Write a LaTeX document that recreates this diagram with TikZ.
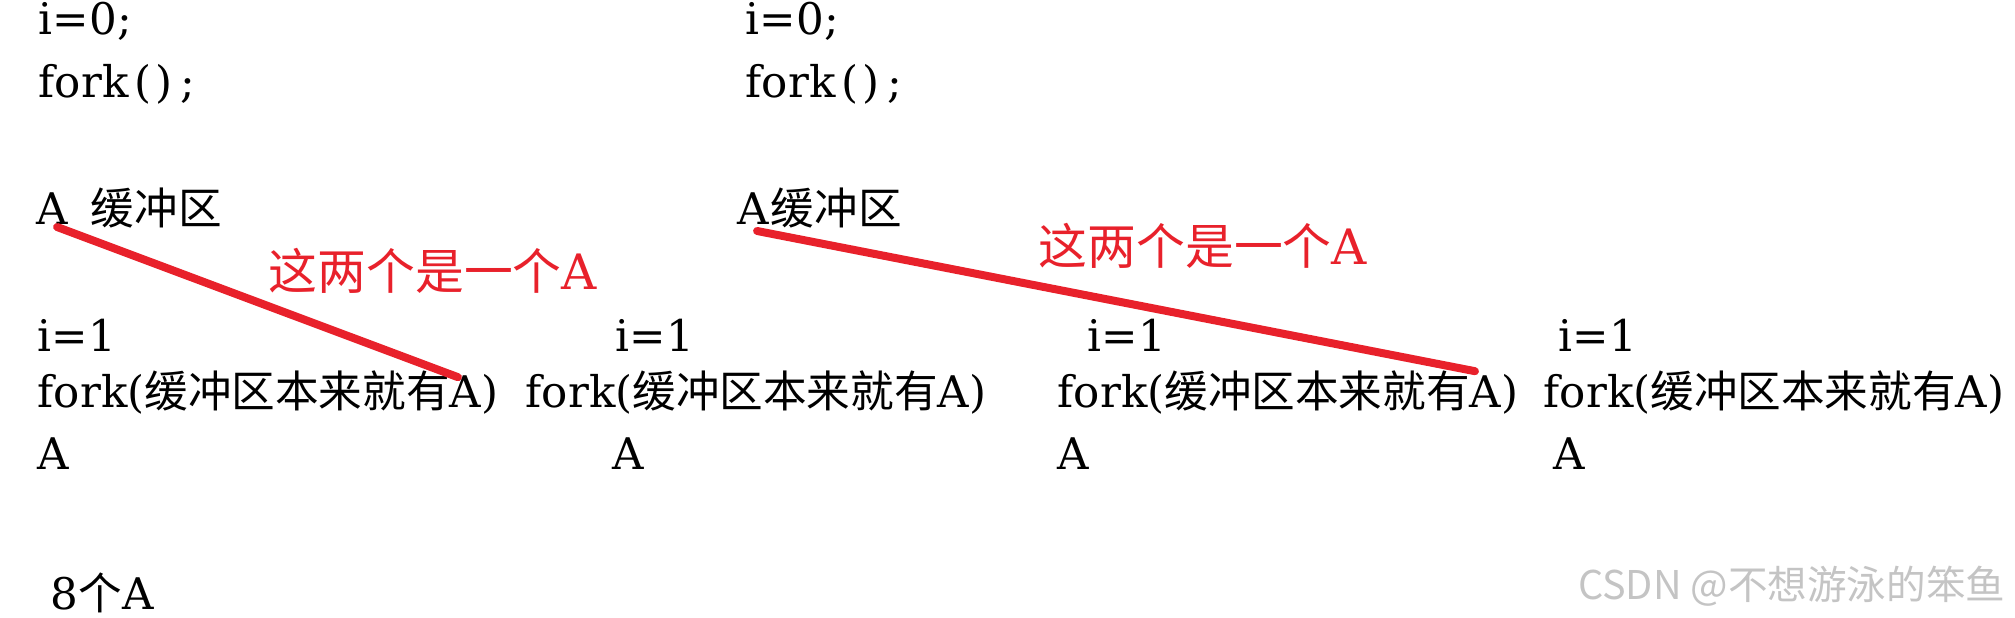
\documentclass[tikz,border=0pt]{standalone}
\usepackage{fontspec}
\setmainfont{DejaVu Serif}
\newfontfamily\cjk{Noto Sans CJK SC}
\newcommand{\zh}[1]{{\cjk #1}}
\usetikzlibrary{positioning}
\definecolor{markred}{HTML}{E8212B}
\definecolor{watergray}{HTML}{C4C4C4}
\tikzset{code-line/.style =
   {inner sep=0pt,
    text height=8.5pt,
    text depth=2.5pt,
    font=\fontsize{10.9}{13}\selectfont}}
\tikzset{note-text/.style =
   {inner sep=0pt,
    text=markred,
    font=\fontsize{12.2}{14}\selectfont}}
\tikzset{mark-line/.style = {draw=markred, line width=2pt, line cap=round}}
\tikzset{water-mark/.style =
   {inner sep=0pt,
    text=watergray,
    font=\fontsize{9.9}{12}\selectfont\cjk}}

\begin{document}
\begin{tikzpicture}[x=0.25pt, y=-0.25pt]
    \useasboundingbox (0,0) rectangle (2015,618);

    % before the fork, left side
    \node [code-line, anchor=base west] (init1) at (38,35) {i=0;};
    \node [code-line,
           below=15.75pt of init1.west,
           anchor=west] (call1) {fork\kern1.5pt(\kern1pt)\kern2pt;};
    \node [code-line,
           below=31.75pt of call1.west,
           anchor=west,
           xshift=-0.5pt] (bufA1) {A};
    \node [code-line,
           right=5.25pt of bufA1.base east,
           anchor=base west] (buf1) {\zh{缓冲区}};

    % before the fork, right side
    \node [code-line, anchor=base west] (init2) at (745,35) {i=0;};
    \node [code-line,
           below=15.75pt of init2.west,
           anchor=west] (call2) {fork\kern1.5pt(\kern1pt)\kern2pt;};
    \node [code-line,
           below=31.75pt of call2.west,
           anchor=west,
           xshift=-2pt] (bufA2) {A};
    \node [code-line,
           right=0pt of bufA2.base east,
           anchor=base west] (buf2) {\zh{缓冲区}};

    % the four children
    \node [code-line, anchor=base west] (fork1) at (37,408)
    {fork(\zh{缓冲区本来就有}A)};
    \node [code-line, above=14pt of fork1.west, anchor=west] (loop1) {i=1};
    \node [code-line, below=15.5pt of fork1.west, anchor=west] (out1) {A};

    \node [code-line, anchor=base west] (fork2) at (525,408)
    {fork(\zh{缓冲区本来就有}A)};
    \node [code-line, above=14pt of fork2.west, anchor=west,
           xshift=22.5pt] (loop2) {i=1};
    \node [code-line, below=15.5pt of fork2.west, anchor=west,
           xshift=21.75pt] (out2) {A};

    \node [code-line, anchor=base west] (fork3) at (1057,408)
    {fork(\zh{缓冲区本来就有}A)};
    \node [code-line, above=14pt of fork3.west, anchor=west,
           xshift=7.5pt] (loop3) {i=1};
    \node [code-line, below=15.5pt of fork3.west, anchor=west] (out3) {A};

    \node [code-line, anchor=base west] (fork4) at (1543,408)
    {fork(\zh{缓冲区本来就有}A)};
    \node [code-line, above=14pt of fork4.west, anchor=west,
           xshift=3.75pt] (loop4) {i=1};
    \node [code-line, below=15.5pt of fork4.west, anchor=west,
           xshift=2.5pt] (out4) {A};

    % same A
    \draw [mark-line] ([xshift=-3pt,yshift=-0.5pt]bufA1.base east)
        -- ([xshift=-10.25pt,yshift=-1pt]fork1.north east);
    \node [note-text, anchor=base west] (note1) at (268,290) {\zh{这两个是一个}A};

    \draw [mark-line] ([xshift=-3.25pt,yshift=-1.5pt]bufA2.base east)
        -- ([xshift=-11pt,yshift=0.5pt]fork3.north east);
    \node [note-text, anchor=base west] (note2) at (1038,265) {\zh{这两个是一个}A};

    \node [code-line, anchor=base west] (total) at (50,610) {8\zh{个}A};

    \node [water-mark, anchor=base east] (credit) at (2006,600)
    {CSDN @不想游泳的笨鱼};

\end{tikzpicture}
\end{document}
